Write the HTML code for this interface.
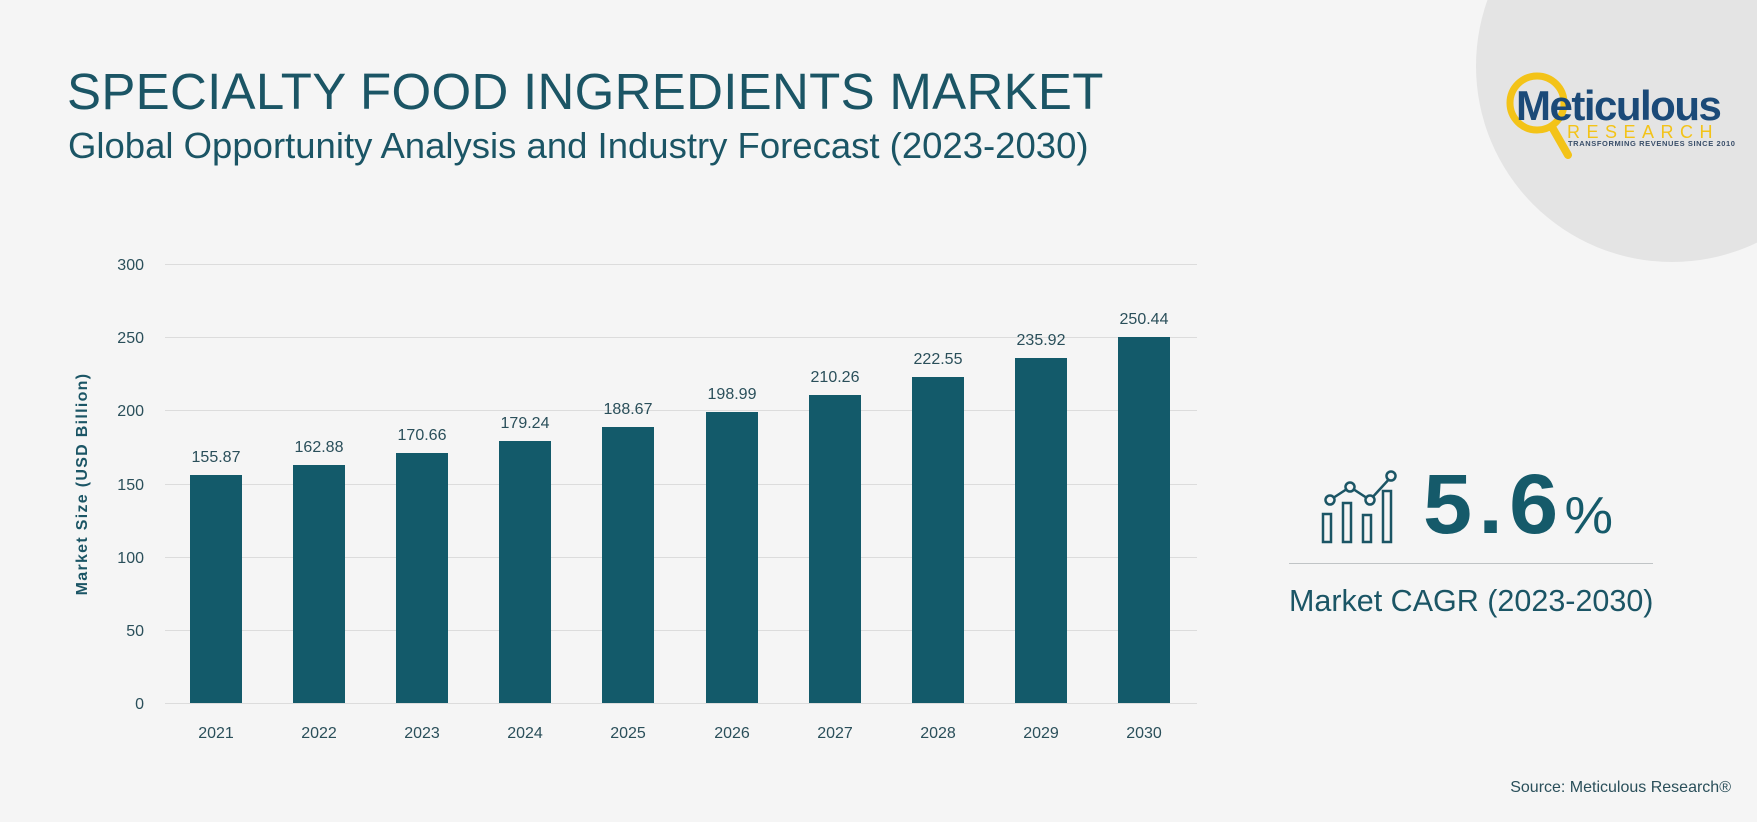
<!DOCTYPE html>
<html><head><meta charset="utf-8"><style>
body{margin:0;width:1757px;height:822px;overflow:hidden;background:#f5f5f5;font-family:"Liberation Sans",sans-serif;color:#1b5565;position:relative}
.a{position:absolute;white-space:nowrap}
</style></head><body>
<svg class="a" style="left:0;top:0" width="1757" height="822">
<circle cx="1672" cy="66" r="196" fill="#e4e4e4"/>
<g stroke="#dcdcdc" stroke-width="1">
<line x1="165" x2="1197" y1="264.5" y2="264.5"/><line x1="165" x2="1197" y1="337.5" y2="337.5"/>
<line x1="165" x2="1197" y1="410.5" y2="410.5"/><line x1="165" x2="1197" y1="484.5" y2="484.5"/>
<line x1="165" x2="1197" y1="557.5" y2="557.5"/><line x1="165" x2="1197" y1="630.5" y2="630.5"/>
<line x1="165" x2="1197" y1="703.5" y2="703.5"/>
</g>
<g fill="#135a6a">
<rect x="190" y="475" width="52" height="228"/>
<rect x="293" y="465" width="52" height="238"/>
<rect x="396" y="453" width="52" height="250"/>
<rect x="499" y="441" width="52" height="262"/>
<rect x="602" y="427" width="52" height="276"/>
<rect x="706" y="412" width="52" height="291"/>
<rect x="809" y="395" width="52" height="308"/>
<rect x="912" y="377" width="52" height="326"/>
<rect x="1015" y="358" width="52" height="345"/>
<rect x="1118" y="337" width="52" height="366"/>
</g>
<g font-family="Liberation Sans" font-size="16" fill="#2a4f5a" text-anchor="middle">
<text x="216" y="462">155.87</text><text x="319" y="452">162.88</text><text x="422" y="440">170.66</text>
<text x="525" y="428">179.24</text><text x="628" y="414">188.67</text><text x="732" y="399">198.99</text>
<text x="835" y="382">210.26</text><text x="938" y="364">222.55</text><text x="1041" y="345">235.92</text>
<text x="1144" y="324">250.44</text>
<g>
<text x="216" y="738">2021</text><text x="319" y="738">2022</text><text x="422" y="738">2023</text>
<text x="525" y="738">2024</text><text x="628" y="738">2025</text><text x="732" y="738">2026</text>
<text x="835" y="738">2027</text><text x="938" y="738">2028</text><text x="1041" y="738">2029</text>
<text x="1144" y="738">2030</text></g>
</g>
<g font-family="Liberation Sans" font-size="16" fill="#2a4f5a" text-anchor="end">
<text x="144" y="270">300</text><text x="144" y="343">250</text><text x="144" y="416">200</text>
<text x="144" y="490">150</text><text x="144" y="563">100</text><text x="144" y="636">50</text><text x="144" y="709">0</text>
</g>
<text transform="translate(87,484) rotate(-90)" text-anchor="middle" font-family="Liberation Sans" font-weight="bold" font-size="16" fill="#1b5565" letter-spacing="1.3">Market Size (USD Billion)</text>
<!-- icon -->
<g fill="none" stroke="#1b5565" stroke-width="2.5">
<rect x="1323" y="514" width="8" height="28"/><rect x="1343" y="503" width="8" height="39"/>
<rect x="1363" y="515" width="8" height="27"/><rect x="1383" y="491" width="8" height="51"/>
<polyline points="1330,500 1350,487 1370,500 1391,477"/>
<circle cx="1330" cy="500" r="4.5" fill="#f5f5f5"/><circle cx="1350" cy="487" r="4.5" fill="#f5f5f5"/>
<circle cx="1370" cy="500" r="4.5" fill="#f5f5f5"/><circle cx="1391" cy="476" r="4.5" fill="#f5f5f5"/>
</g>
<line x1="1289" x2="1653" y1="563.5" y2="563.5" stroke="#c0c4c6"/>
<!-- logo magnifier -->
<circle cx="1537" cy="103" r="27" fill="none" stroke="#f3c318" stroke-width="7"/>
<line x1="1552" y1="127" x2="1568" y2="155" stroke="#f3c318" stroke-width="8" stroke-linecap="round"/>
</svg>
<div class="a" style="left:67px;top:62px;font-size:51px;letter-spacing:0.3px;color:#1b5565">SPECIALTY FOOD INGREDIENTS MARKET</div>
<div class="a" style="left:68px;top:125px;font-size:36.5px;color:#1b5565">Global Opportunity Analysis and Industry Forecast (2023-2030)</div>
<div class="a" style="left:1423px;top:456px;font-size:84px;font-weight:bold;color:#155a6a;letter-spacing:6px;transform:scaleX(1.05);transform-origin:left">5.6<span style="font-size:52px;font-weight:normal;margin-left:0px;letter-spacing:0">%</span></div>
<div class="a" style="left:1289px;top:584px;font-size:30.5px;color:#1b5565">Market CAGR (2023-2030)</div>
<div class="a" style="right:26px;top:779px;font-size:16px;color:#2a4f5a">Source: Meticulous Research®</div>
<div class="a" style="left:1516px;top:82px;font-size:42px;font-weight:bold;color:#1b4a78;letter-spacing:-1.5px;background:transparent">Meticulous</div>
<div class="a" style="left:1567px;top:122px;font-size:18px;color:#f3c318;letter-spacing:6.5px">RESEARCH</div>
<div class="a" style="left:1568px;top:139px;font-size:7.5px;font-weight:bold;color:#3a4f6a;letter-spacing:0.6px">TRANSFORMING REVENUES SINCE 2010</div>
</body></html>
